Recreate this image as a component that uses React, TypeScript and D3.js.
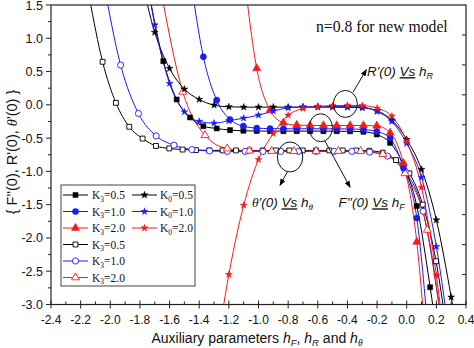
import React from "react";
import * as d3 from "d3";

const BLACK = "#000000";
const BLUE = "#1b1bf5";
const RED = "#f51b1b";
const SANS = "'Liberation Sans', Arial, sans-serif";
const SERIF = "'Liberation Serif', 'Times New Roman', serif";

const xTickValues = [-2.4, -2.2, -2.0, -1.8, -1.6, -1.4, -1.2, -1.0, -0.8, -0.6, -0.4, -0.2, 0.0, 0.2, 0.4];
const xMinorValues = [-2.3, -2.1, -1.9, -1.7, -1.5, -1.3, -1.1, -0.9, -0.7, -0.5, -0.3, -0.1, 0.1, 0.3];
const yTickValues = [1.5, 1.0, 0.5, 0.0, -0.5, -1.0, -1.5, -2.0, -2.5, -3.0];
const yMinorValues = [1.25, 0.75, 0.25, -0.25, -0.75, -1.25, -1.75, -2.25, -2.75];
const rightTickValues = [1.05, 0.6, 0.15, -0.3, -0.75, -1.2, -1.65, -2.1, -2.55];

// F''(0) vs h_F  (filled markers)
const F_K05: [number, number][] = [[-1.732, 1.6], [-1.642, 0.657], [-1.552, 0.081], [-1.462, -0.19], [-1.372, -0.321], [-1.282, -0.356], [-1.192, -0.38], [-1.102, -0.39], [-1.012, -0.393], [-0.922, -0.395], [-0.832, -0.395], [-0.742, -0.395], [-0.652, -0.395], [-0.562, -0.395], [-0.472, -0.396], [-0.382, -0.398], [-0.292, -0.405], [-0.202, -0.446], [-0.112, -0.572], [-0.022, -0.9], [0.068, -1.52], [0.158, -2.74], [0.248, -4.2]];
const F_K10: [number, number][] = [[-1.462, 1.95], [-1.372, 0.722], [-1.282, 0.07], [-1.192, -0.22], [-1.102, -0.321], [-1.012, -0.35], [-0.922, -0.358], [-0.832, -0.36], [-0.742, -0.36], [-0.652, -0.36], [-0.562, -0.36], [-0.472, -0.361], [-0.382, -0.363], [-0.292, -0.372], [-0.202, -0.4], [-0.112, -0.5], [-0.022, -0.95], [0.068, -1.7], [0.158, -3.8]];
const F_K20: [number, number][] = [[-1.102, 2.05], [-1.012, 0.547], [-0.922, -0.08], [-0.832, -0.27], [-0.742, -0.305], [-0.652, -0.31], [-0.562, -0.31], [-0.472, -0.31], [-0.382, -0.31], [-0.292, -0.31], [-0.202, -0.315], [-0.112, -0.42], [-0.022, -0.88], [0.068, -2.06], [0.158, -4.5]];

// R'(0) vs h_R  (stars)
const R_K05: [number, number][] = [[-1.8, 2.0], [-1.7, 1.089], [-1.6, 0.547], [-1.5, 0.236], [-1.4, 0.081], [-1.3, -0.005], [-1.2, -0.03], [-1.1, -0.035], [-1.0, -0.035], [-0.9, -0.035], [-0.8, -0.035], [-0.7, -0.035], [-0.6, -0.035], [-0.5, -0.035], [-0.4, -0.037], [-0.3, -0.045], [-0.2, -0.09], [-0.1, -0.23], [0.0, -0.52], [0.1, -0.97], [0.2, -1.73], [0.3, -2.89], [0.4, -4.3]];
const R_K10: [number, number][] = [[-1.8, 2.6], [-1.7, 1.2], [-1.6, 0.321], [-1.5, -0.106], [-1.4, -0.25], [-1.3, -0.275], [-1.2, -0.24], [-1.1, -0.2], [-1.0, -0.155], [-0.9, -0.095], [-0.8, -0.045], [-0.7, -0.03], [-0.6, -0.025], [-0.5, -0.025], [-0.4, -0.027], [-0.3, -0.035], [-0.2, -0.1], [-0.1, -0.25], [0.0, -0.58], [0.1, -1.09], [0.2, -2.13], [0.3, -3.7]];
const R_K20: [number, number][] = [[-1.3, -3.95], [-1.2, -2.549], [-1.1, -1.51], [-1.0, -0.822], [-0.9, -0.431], [-0.8, -0.156], [-0.7, -0.055], [-0.6, -0.025], [-0.5, -0.012], [-0.4, -0.008], [-0.3, -0.012], [-0.2, -0.05], [-0.1, -0.17], [0.0, -0.55], [0.1, -1.24], [0.2, -2.56], [0.3, -4.5]];

// θ'(0) vs h_θ  (open markers)
const T_K05: [number, number][] = [[-2.142, 1.62], [-2.052, 0.647], [-1.962, 0.03], [-1.872, -0.33], [-1.782, -0.507], [-1.692, -0.618], [-1.602, -0.655], [-1.512, -0.672], [-1.422, -0.68], [-1.332, -0.684], [-1.242, -0.685], [-1.152, -0.685], [-1.062, -0.685], [-0.972, -0.685], [-0.882, -0.685], [-0.792, -0.685], [-0.702, -0.685], [-0.612, -0.685], [-0.522, -0.685], [-0.432, -0.685], [-0.342, -0.686], [-0.252, -0.69], [-0.162, -0.72], [-0.072, -0.83], [0.018, -1.03], [0.108, -1.5], [0.198, -2.35], [0.288, -3.7]];
const T_K10: [number, number][] = [[-2.05, 1.9], [-1.93, 0.597], [-1.81, -0.13], [-1.69, -0.467], [-1.57, -0.607], [-1.45, -0.672], [-1.33, -0.693], [-1.21, -0.7], [-1.09, -0.7], [-0.97, -0.7], [-0.85, -0.7], [-0.73, -0.7], [-0.61, -0.7], [-0.49, -0.7], [-0.37, -0.7], [-0.25, -0.71], [-0.13, -0.77], [-0.01, -1.0], [0.11, -1.6], [0.23, -3.2]];
const T_K20: [number, number][] = [[-1.661, 1.75], [-1.511, 0.195], [-1.361, -0.457], [-1.211, -0.657], [-1.061, -0.69], [-0.911, -0.695], [-0.761, -0.695], [-0.611, -0.695], [-0.461, -0.695], [-0.311, -0.697], [-0.161, -0.74], [-0.011, -1.03], [0.139, -1.88], [0.289, -4.3]];

const legendLeft = ["0.5", "1.0", "2.0", "0.5", "1.0", "2.0"];
const legendRight = ["0.5", "1.0", "2.0"];

type Series = { id: string; data: [number, number][]; color: string; sym: d3.SymbolType; filled: boolean; size: number };

const seriesList: Series[] = [
  { id: "T05", data: T_K05, color: BLACK, sym: d3.symbolSquare, filled: false, size: 24 },
  { id: "T10", data: T_K10, color: BLUE, sym: d3.symbolCircle, filled: false, size: 30 },
  { id: "T20", data: T_K20, color: RED, sym: d3.symbolTriangle, filled: false, size: 28 },
  { id: "F05", data: F_K05, color: BLACK, sym: d3.symbolSquare, filled: true, size: 26 },
  { id: "F10", data: F_K10, color: BLUE, sym: d3.symbolCircle, filled: true, size: 30 },
  { id: "F20", data: F_K20, color: RED, sym: d3.symbolTriangle, filled: true, size: 30 },
  { id: "R05", data: R_K05, color: BLACK, sym: d3.symbolStar, filled: true, size: 15 },
  { id: "R10", data: R_K10, color: BLUE, sym: d3.symbolStar, filled: true, size: 15 },
  { id: "R20", data: R_K20, color: RED, sym: d3.symbolStar, filled: true, size: 15 },
];

const legendSeriesLeft = [seriesList[3], seriesList[4], seriesList[5], seriesList[0], seriesList[1], seriesList[2]];
const legendSeriesRight = [seriesList[6], seriesList[7], seriesList[8]];

// annotations in data units
const ellipses = [
  { h: -0.414, v: 0.014, rx: 12, ry: 13.5 },
  { h: -0.58, v: -0.344, rx: 11.7, ry: 14 },
  { h: -0.787, v: -0.783, rx: 12.7, ry: 15 },
];
const arrows = [
  { h1: -0.362, v1: 0.19, h2: -0.272, v2: 0.53 },
  { h1: -0.551, v1: -0.547, h2: -0.382, v2: -1.239 },
  { h1: -0.806, v1: -1.009, h2: -0.855, v2: -1.209 },
];

export default function App() {
  const L = 51, R = 466, T = 5, B = 304.5;
  const x = d3.scaleLinear().domain([-2.4, 0.4]).range([L, R]);
  const y = d3.scaleLinear().domain([-3, 1.5]).range([B, T]);
  const line = d3.line<[number, number]>().x((d) => x(d[0])).y((d) => y(d[1])).curve(d3.curveMonotoneX);
  const sym = (s: Series) => d3.symbol().type(s.sym).size(s.size)() as string;
  const fmt = (v: number) => (Math.abs(v) < 1e-9 ? "0.0" : v.toFixed(1));

  const legRows = [195, 211.5, 228, 244.5, 261, 277.5];

  return (
    <svg width={474} height={348} style={{ position: "absolute", left: 0, top: 0, background: "#fff" }}>
      <defs>
        <clipPath id="plotClip">
          <rect x={L} y={T} width={R - L} height={B - T} />
        </clipPath>
        <marker id="arrowHead" viewBox="0 0 10 10" refX="9" refY="5" markerWidth="7" markerHeight="7" orient="auto">
          <path d="M0,1 L10,5 L0,9 z" fill="#000" />
        </marker>
      </defs>
      <rect x={0} y={0} width={474} height={348} fill="#fff" />

      {/* curves */}
      <g clipPath="url(#plotClip)">
        {seriesList.map((s) => (
          <path key={s.id + "l"} d={line(s.data) as string} fill="none" stroke={s.color} strokeWidth={1} />
        ))}
        {seriesList.map((s) => (
          <g key={s.id + "m"}>
            {s.data.map((d, i) => (
              <path
                key={i}
                d={sym(s)}
                transform={`translate(${x(d[0])},${y(d[1])})`}
                fill={s.filled ? s.color : "#fff"}
                stroke={s.color}
                strokeWidth={s.filled ? 0.5 : 0.9}
              />
            ))}
          </g>
        ))}
      </g>

      {/* frame */}
      <rect x={L} y={T} width={R - L} height={B - T} fill="none" stroke="#222" strokeWidth={1.2} />

      {/* x ticks */}
      {xTickValues.map((v) => (
        <g key={"xt" + v}>
          <line x1={x(v)} x2={x(v)} y1={B - 4} y2={B + 4} stroke="#222" />
          <text x={x(v)} y={B + 19} fontFamily={SANS} fontSize={12} textAnchor="middle" fill="#111">
            {fmt(v)}
          </text>
        </g>
      ))}
      {xMinorValues.map((v) => (
        <line key={"xm" + v} x1={x(v)} x2={x(v)} y1={B - 3} y2={B} stroke="#222" />
      ))}

      {/* y ticks */}
      {yTickValues.map((v) => (
        <g key={"yt" + v}>
          <line x1={L - 5} x2={L} y1={y(v)} y2={y(v)} stroke="#222" />
          <text x={L - 8} y={y(v) + 4.5} fontFamily={SANS} fontSize={12.5} textAnchor="end" fill="#111">
            {fmt(v)}
          </text>
        </g>
      ))}
      {yMinorValues.map((v) => (
        <line key={"ym" + v} x1={L - 3} x2={L} y1={y(v)} y2={y(v)} stroke="#222" />
      ))}
      {rightTickValues.map((v) => (
        <line key={"yr" + v} x1={R - 4} x2={R} y1={y(v)} y2={y(v)} stroke="#222" />
      ))}

      {/* axis titles */}
      <text x={257} y={343} fontFamily={SANS} fontSize={14} textAnchor="middle" fill="#111">
        Auxiliary parameters <tspan fontStyle="italic">h</tspan>
        <tspan fontStyle="italic" fontSize={9.5} dy={3}>F</tspan>
        <tspan dy={-3}>, </tspan>
        <tspan fontStyle="italic">h</tspan>
        <tspan fontStyle="italic" fontSize={9.5} dy={3}>R</tspan>
        <tspan dy={-3}> and </tspan>
        <tspan fontStyle="italic">h</tspan>
        <tspan fontStyle="italic" fontSize={9.5} dy={3} fontFamily={SERIF}>θ</tspan>
      </text>
      <text transform="translate(17,152) rotate(-90)" fontFamily={SANS} fontSize={14.5} textAnchor="middle" fill="#111">
        {"{ F''(0), R'(0), "}
        <tspan fontStyle="italic" fontFamily={SERIF}>θ</tspan>
        {"'(0) }"}
      </text>

      {/* annotation text */}
      <text x={x(-0.612)} y={y(1.094)} fontFamily={SERIF} fontSize={15.7} fill="#111">
        n=0.8 for new model
      </text>
      {ellipses.map((e, i) => (
        <ellipse key={"el" + i} cx={x(e.h)} cy={y(e.v)} rx={e.rx} ry={e.ry} fill="none" stroke="#111" strokeWidth={1} />
      ))}
      {arrows.map((a, i) => (
        <line key={"ar" + i} x1={x(a.h1)} y1={y(a.v1)} x2={x(a.h2)} y2={y(a.v2)} stroke="#111" strokeWidth={1} markerEnd="url(#arrowHead)" />
      ))}
      <text x={x(-0.268)} y={y(0.431)} fontFamily={SANS} fontSize={13.5} fontStyle="italic" fill="#111">
        R'(0) <tspan style={{ textDecoration: "underline" }}>Vs</tspan> h
        <tspan fontSize={9} dy={3}>R</tspan>
      </text>
      <text x={x(-0.46)} y={y(-1.54)} fontFamily={SANS} fontSize={13.5} fontStyle="italic" fill="#111">
        F''(0) <tspan style={{ textDecoration: "underline" }}>Vs</tspan> h
        <tspan fontSize={9} dy={3}>F</tspan>
      </text>
      <text x={x(-1.044)} y={y(-1.54)} fontFamily={SANS} fontSize={13.5} fontStyle="italic" fill="#111">
        <tspan fontFamily={SERIF}>θ</tspan>'(0) <tspan style={{ textDecoration: "underline" }}>Vs</tspan> h
        <tspan fontSize={9} dy={3} fontFamily={SERIF}>θ</tspan>
      </text>

      {/* legend */}
      <rect x={61} y={185} width={134} height={101} fill="#fff" stroke="#444" strokeWidth={1} />
      {legendSeriesLeft.map((s, i) => (
        <g key={"lg" + i}>
          <line x1={63} x2={88} y1={legRows[i]} y2={legRows[i]} stroke={s.color} strokeWidth={1} />
          <path d={sym(s)} transform={`translate(75.5,${legRows[i]})`} fill={s.filled ? s.color : "#fff"} stroke={s.color} strokeWidth={s.filled ? 0.5 : 0.9} />
          <text x={92} y={legRows[i] + 4} fontFamily={SERIF} fontSize={11.5} fill="#111">
            K<tspan fontSize={7.5} dy={2.5}>3</tspan>
            <tspan dy={-2.5}>={legendLeft[i]}</tspan>
          </text>
        </g>
      ))}
      {legendSeriesRight.map((s, i) => (
        <g key={"lr" + i}>
          <line x1={132} x2={157} y1={legRows[i]} y2={legRows[i]} stroke={s.color} strokeWidth={1} />
          <path d={sym(s)} transform={`translate(144.5,${legRows[i]})`} fill={s.color} stroke={s.color} strokeWidth={0.5} />
          <text x={160} y={legRows[i] + 4} fontFamily={SERIF} fontSize={11.5} fill="#111">
            K<tspan fontSize={7.5} dy={2.5}>0</tspan>
            <tspan dy={-2.5}>={legendRight[i]}</tspan>
          </text>
        </g>
      ))}
    </svg>
  );
}
